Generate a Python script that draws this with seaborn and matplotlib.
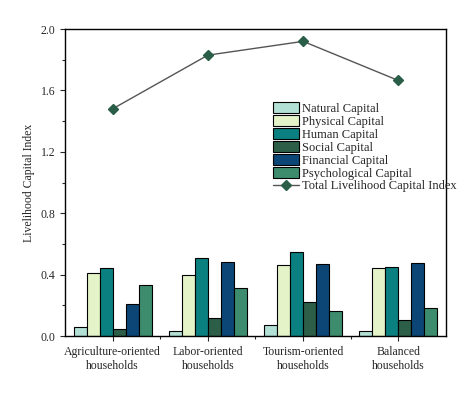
import numpy as np
import pandas as pd
import matplotlib
matplotlib.use("Agg")
import matplotlib.pyplot as plt
import seaborn as sns
from matplotlib.ticker import MultipleLocator, FixedLocator

categories = ["Agriculture-oriented\nhouseholds", "Labor-oriented\nhouseholds",
              "Tourism-oriented\nhouseholds", "Balanced\nhouseholds"]
capitals = ["Natural Capital", "Physical Capital", "Human Capital",
            "Social Capital", "Financial Capital", "Psychological Capital"]
natural = [0.06, 0.03, 0.07, 0.035]
physical = [0.41, 0.40, 0.46, 0.44]
human = [0.44, 0.51, 0.545, 0.45]
social = [0.045, 0.12, 0.22, 0.105]
financial = [0.21, 0.48, 0.47, 0.475]
psychological = [0.33, 0.31, 0.165, 0.18]
total = [1.48, 1.83, 1.92, 1.665]

colors = ["#b2e0d4", "#e4f4c8", "#0b8080", "#2c5e48", "#0c4676", "#3e8c6e"]

rows = []
for name, vals in zip(capitals, [natural, physical, human, social, financial, psychological]):
    for c, v in zip(categories, vals):
        rows.append({"household": c, "capital": name, "value": v})
df = pd.DataFrame(rows)

sns.set_style("ticks")
plt.rcParams["font.family"] = ["Liberation Serif", "DejaVu Serif"]

fig = plt.figure(figsize=(4.74, 3.93), dpi=100)
ax = fig.add_axes([0.137, 0.145, 0.804, 0.781])

sns.barplot(data=df, x="household", y="value", hue="capital", order=categories,
            hue_order=capitals, palette=colors, width=0.82, gap=0,
            edgecolor="black", linewidth=0.8, saturation=1, ax=ax, legend=True)

x = np.arange(len(categories))
ax.plot(x, total, color="#555555", lw=1.0, marker="D", markersize=5,
        markerfacecolor="#2a5e48", markeredgecolor="#2a5e48",
        label="Total Livelihood Capital Index")

ax.set_xlim(-0.5, 3.5)
ax.set_ylim(0, 2.0)
ax.yaxis.set_major_locator(MultipleLocator(0.4))
ax.yaxis.set_minor_locator(MultipleLocator(0.2))
ax.yaxis.set_major_formatter(matplotlib.ticker.FormatStrFormatter("%.1f"))
ax.xaxis.set_minor_locator(FixedLocator([0.5, 1.5, 2.5]))
ax.tick_params(axis="both", which="major", length=3.5, width=0.8, labelsize=8.5, direction="out")
ax.tick_params(axis="both", which="minor", length=2.5, width=0.8, direction="out")
ax.set_xlabel("")
ax.set_ylabel("Livelihood Capital Index", fontsize=8.5, labelpad=4)
for s in ax.spines.values():
    s.set_visible(True)
    s.set_linewidth(1.0)
    s.set_color("black")

handles, labels = ax.get_legend_handles_labels()
ax.legend(handles, labels, loc="upper left", bbox_to_anchor=(0.546, 0.762),
          frameon=False, fontsize=9, borderpad=0, handlelength=2.1,
          handleheight=0.95, labelspacing=0.02, handletextpad=0.2,
          borderaxespad=0)

fig.savefig("out.png", dpi=100)
